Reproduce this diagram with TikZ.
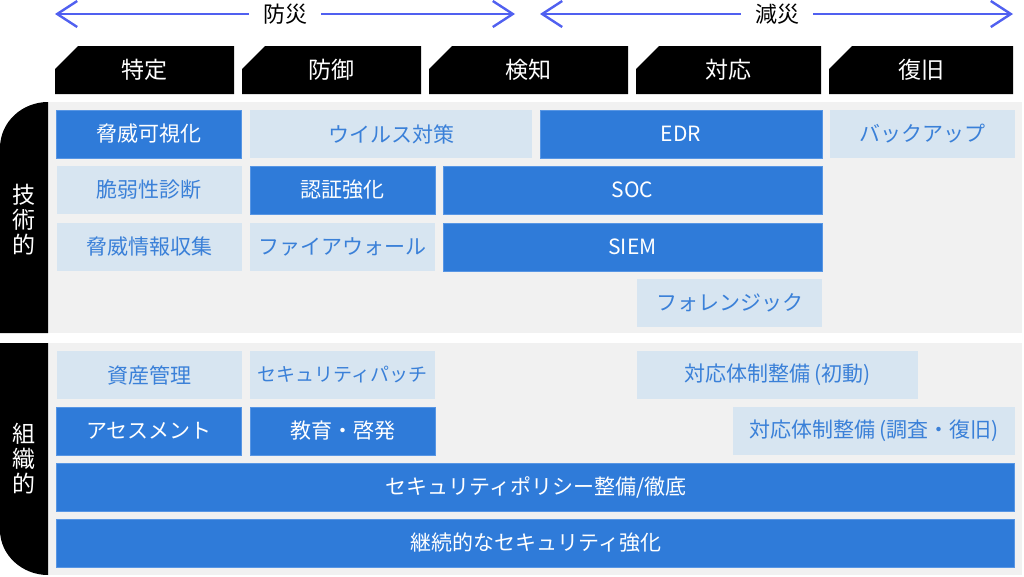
\documentclass[tikz,border=0pt]{standalone}
\usepackage{fontspec}
\setmainfont{Noto Sans CJK JP}
\usetikzlibrary{arrows.meta}
\definecolor{dkblue}{RGB}{47,123,217}
\definecolor{dkedge}{RGB}{88,150,228}
\definecolor{ltblue}{RGB}{215,229,241}
\definecolor{lttext}{RGB}{58,128,216}
\definecolor{bggray}{RGB}{241,241,241}
\definecolor{arrowc}{RGB}{80,96,240}
\begin{document}
\begin{tikzpicture}[x=1pt,y=-1pt,
  box/.style={minimum height=48pt, inner sep=0pt, font=\fontsize{21}{25}\selectfont},
  dk/.style={box, fill=dkblue, draw=dkedge, line width=0.6pt, text=white},
  lt/.style={box, fill=ltblue, text=lttext},
  small/.style={font=\fontsize{19}{23}\selectfont},
  tabtext/.style={text=white, font=\fontsize{23}{27}\selectfont},
  side/.style={text=white, align=center, font=\fontsize{23}{25}\selectfont},
  arr/.style={draw=arrowc, line width=2.4pt, -{Straight Barb[length=20pt,width=26pt]}},
  arrlabel/.style={font=\fontsize{22}{26}\selectfont, inner xsep=14pt, inner ysep=0pt}]
\fill[white] (0,0) rectangle (1024,576);
\useasboundingbox (0,0) rectangle (1024,576);

% top arrows
\coordinate (la) at (55,14);
\coordinate (ra) at (515,14);
\node[arrlabel] (bousai) at (285,14) {防災};
\draw[arr] (bousai.west) -- (la);
\draw[arr] (bousai.east) -- (ra);
\coordinate (lb) at (540,14);
\coordinate (rb) at (1013,14);
\node[arrlabel] (gensai) at (777,14) {減災};
\draw[arr] (gensai.west) -- (lb);
\draw[arr] (gensai.east) -- (rb);

% phase tabs
\newcommand{\phasetab}[4]{%
  \fill[black] (#1,94) -- (#1,69) -- ({#1+23},46) -- (#2,46) -- (#2,94) -- cycle;
  \node[tabtext] (#3) at ({(#1+#2)/2},70) {#4};}
\phasetab{55}{234}{h1}{特定}
\phasetab{242}{421}{h2}{防御}
\phasetab{429}{628}{h3}{検知}
\phasetab{636}{821}{h4}{対応}
\phasetab{829}{1013}{h5}{復旧}

% section backgrounds
\fill[bggray] (48,102) rectangle (1022,333);
\fill[bggray] (48,343) rectangle (1022,575);
\fill[black] (48,333) -- (0,333) -- (0,148) .. controls (0,122) and (22,102) .. (48,102) -- cycle;
\fill[black] (48,343) -- (0,343) -- (0,530) .. controls (0,555) and (22,575) .. (48,575) -- cycle;
\node[side] (tech) at (24,220) {技\\術\\的};
\node[side] (org) at (24,459) {組\\織\\的};

% technical boxes
\node[dk, minimum width=185pt] (b1) at (149,134) {脅威可視化};
\node[lt, minimum width=185pt] (b2) at (149,190) {脆弱性診断};
\node[lt, minimum width=185pt] (b3) at (149,247) {脅威情報収集};
\node[lt, minimum width=282pt] (b4) at (391,134) {ウイルス対策};
\node[dk, minimum width=185pt] (b5) at (342.5,190) {認証強化};
\node[lt, minimum width=185pt] (b6) at (342.5,247) {ファイアウォール};
\node[dk, minimum width=282pt] (b7) at (681,134) {EDR};
\node[dk, minimum width=379pt] (b8) at (632.5,190) {SOC};
\node[dk, minimum width=379pt] (b9) at (632.5,247) {SIEM};
\node[lt, minimum width=185pt] (b10) at (729.5,303) {フォレンジック};
\node[lt, minimum width=185pt] (b11) at (922.5,134) {バックアップ};

% organisational boxes
\node[lt, minimum width=185pt] (o1) at (149,375) {資産管理};
\node[dk, minimum width=185pt] (o2) at (149,431) {アセスメント};
\node[lt, minimum width=185pt, small] (o3) at (342.5,375) {セキュリティパッチ};
\node[dk, minimum width=185pt] (o4) at (342.5,431) {教育・啓発};
\node[lt, minimum width=281pt] (o5) at (777.5,375) {対応体制整備 (初動)};
\node[lt, minimum width=282pt] (o6) at (874,431) {対応体制整備 (調査・復旧)};
\node[dk, minimum width=958pt] (o7) at (535.75,487) {セキュリティポリシー整備/徹底};
\node[dk, minimum width=958pt] (o8) at (535.75,543) {継続的なセキュリティ強化};
\end{tikzpicture}
\end{document}
